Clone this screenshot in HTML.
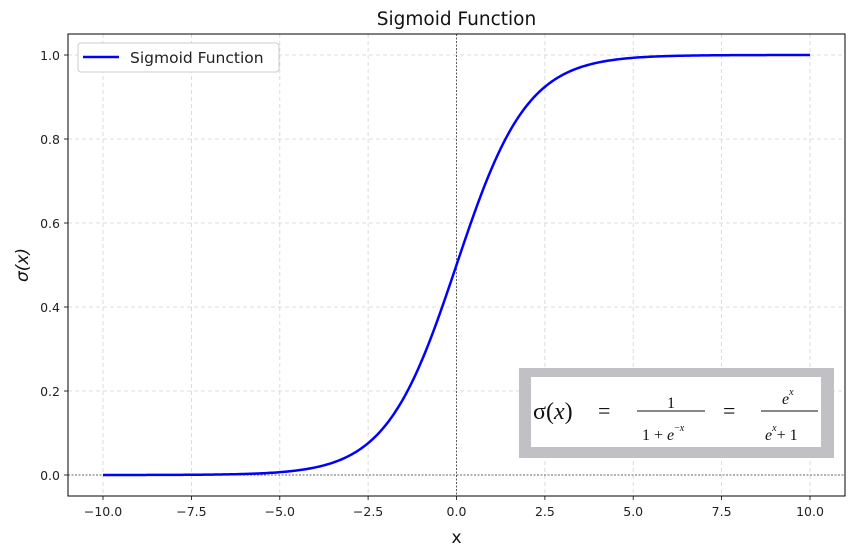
<!DOCTYPE html>
<html><head><meta charset="utf-8"><style>
body{margin:0;background:#fff;}
text{font-family:"DejaVu Sans","Liberation Sans",sans-serif;}
text.s{font-family:"Liberation Serif","DejaVu Serif",serif;}
</style></head><body>
<svg width="856" height="554" viewBox="0 0 856 554" xmlns="http://www.w3.org/2000/svg">
<rect width="856" height="554" fill="#fff"/>
<g stroke="#d3d3d3" stroke-width="0.8" stroke-dasharray="4,3">
<line x1="103" y1="34" x2="103" y2="496"/><line x1="191.4" y1="34" x2="191.4" y2="496"/><line x1="279.8" y1="34" x2="279.8" y2="496"/><line x1="368.1" y1="34" x2="368.1" y2="496"/><line x1="544.9" y1="34" x2="544.9" y2="496"/><line x1="633.2" y1="34" x2="633.2" y2="496"/><line x1="721.6" y1="34" x2="721.6" y2="496"/><line x1="810" y1="34" x2="810" y2="496"/>
<line x1="68" y1="55" x2="845" y2="55"/><line x1="68" y1="139" x2="845" y2="139"/><line x1="68" y1="223" x2="845" y2="223"/><line x1="68" y1="307" x2="845" y2="307"/><line x1="68" y1="391" x2="845" y2="391"/>
</g>
<g stroke="#333" stroke-width="0.8" stroke-dasharray="2,1.5">
<line x1="456.5" y1="34" x2="456.5" y2="496"/><line x1="68" y1="475" x2="845" y2="475"/>
</g>
<polyline id="curve" fill="none" stroke="#0000ff" stroke-width="2.5" points="103,475 173.7,474.9 244.4,474 279.8,472.2 315.1,467.4 350.4,455.1 368.1,443.1 385.8,424.9 403.5,398.4 421.2,362 438.8,316.5 456.5,265 474.2,213.5 491.8,168 509.5,131.6 527.2,105.1 544.9,86.9 562.6,74.9 597.9,62.6 633.2,57.8 668.6,56 739.3,55.1 810,55"/>
<script>(function(){var p=[];for(var i=0;i<=400;i++){var x=-10+i*0.05;var s=1/(1+Math.exp(-x));p.push((456.5+35.35*x).toFixed(2)+","+(475-420*s).toFixed(2));}document.getElementById("curve").setAttribute("points",p.join(" "));})();</script>
<rect x="68" y="34" width="777" height="462" fill="none" stroke="#000" stroke-width="1"/>
<g stroke="#000" stroke-width="0.8">
<line x1="103" y1="496" x2="103" y2="500"/><line x1="191.4" y1="496" x2="191.4" y2="500"/><line x1="279.8" y1="496" x2="279.8" y2="500"/><line x1="368.1" y1="496" x2="368.1" y2="500"/><line x1="456.5" y1="496" x2="456.5" y2="500"/><line x1="544.9" y1="496" x2="544.9" y2="500"/><line x1="633.2" y1="496" x2="633.2" y2="500"/><line x1="721.6" y1="496" x2="721.6" y2="500"/><line x1="810" y1="496" x2="810" y2="500"/>
<line x1="64" y1="55" x2="68" y2="55"/><line x1="64" y1="139" x2="68" y2="139"/><line x1="64" y1="223" x2="68" y2="223"/><line x1="64" y1="307" x2="68" y2="307"/><line x1="64" y1="391" x2="68" y2="391"/><line x1="64" y1="475" x2="68" y2="475"/>
</g>
<g font-size="12.5" fill="#222" text-anchor="middle">
<text x="103" y="516">−10.0</text><text x="191.4" y="516">−7.5</text><text x="279.8" y="516">−5.0</text><text x="368.1" y="516">−2.5</text><text x="456.5" y="516">0.0</text><text x="544.9" y="516">2.5</text><text x="633.2" y="516">5.0</text><text x="721.6" y="516">7.5</text><text x="810" y="516">10.0</text>
</g>
<g font-size="12.5" fill="#222" text-anchor="end">
<text x="60" y="60">1.0</text><text x="60" y="144">0.8</text><text x="60" y="228">0.6</text><text x="60" y="312">0.4</text><text x="60" y="396">0.2</text><text x="60" y="480">0.0</text>
</g>
<text x="456.5" y="25" font-size="18.5" text-anchor="middle" fill="#111">Sigmoid Function</text>
<text x="456.5" y="543" font-size="17" text-anchor="middle" fill="#111">x</text>
<text transform="translate(28,265) rotate(-90)" font-size="17" text-anchor="middle" fill="#111" font-style="italic">σ(x)</text>
<rect x="78" y="43" width="201" height="29" rx="3" fill="#fff" stroke="#ccc" stroke-width="1"/>
<line x1="83" y1="57" x2="119" y2="57" stroke="#0000ff" stroke-width="2.5"/>
<text x="130" y="63" font-size="15.5" fill="#222">Sigmoid Function</text>
<rect x="519" y="368" width="315" height="90" fill="#c0c0c5"/>
<rect x="531" y="377" width="290" height="70" fill="#fff"/>
<g fill="#111">
<text class="s" x="533" y="419" font-size="24">σ(<tspan font-style="italic">x</tspan>)</text>
<text class="s" x="598" y="418" font-size="22">=</text>
<text class="s" x="671" y="408" font-size="16" text-anchor="middle">1</text>
<line x1="637" y1="411" x2="705" y2="411" stroke="#111" stroke-width="1"/>
<text class="s" x="642" y="440" font-size="16">1 + <tspan font-style="italic">e</tspan><tspan font-size="10" dy="-9">−<tspan font-style="italic">x</tspan></tspan></text>
<text class="s" x="723" y="418" font-size="22">=</text>
<text class="s" x="782" y="404" font-size="16" font-style="italic">e<tspan font-size="10" dy="-9">x</tspan></text>
<line x1="761" y1="411" x2="818" y2="411" stroke="#111" stroke-width="1"/>
<text class="s" x="765" y="440" font-size="16"><tspan font-style="italic">e</tspan><tspan font-size="10" dy="-9" font-style="italic">x</tspan><tspan dy="9">+ 1</tspan></text>
</g>
</svg>
</body></html>
